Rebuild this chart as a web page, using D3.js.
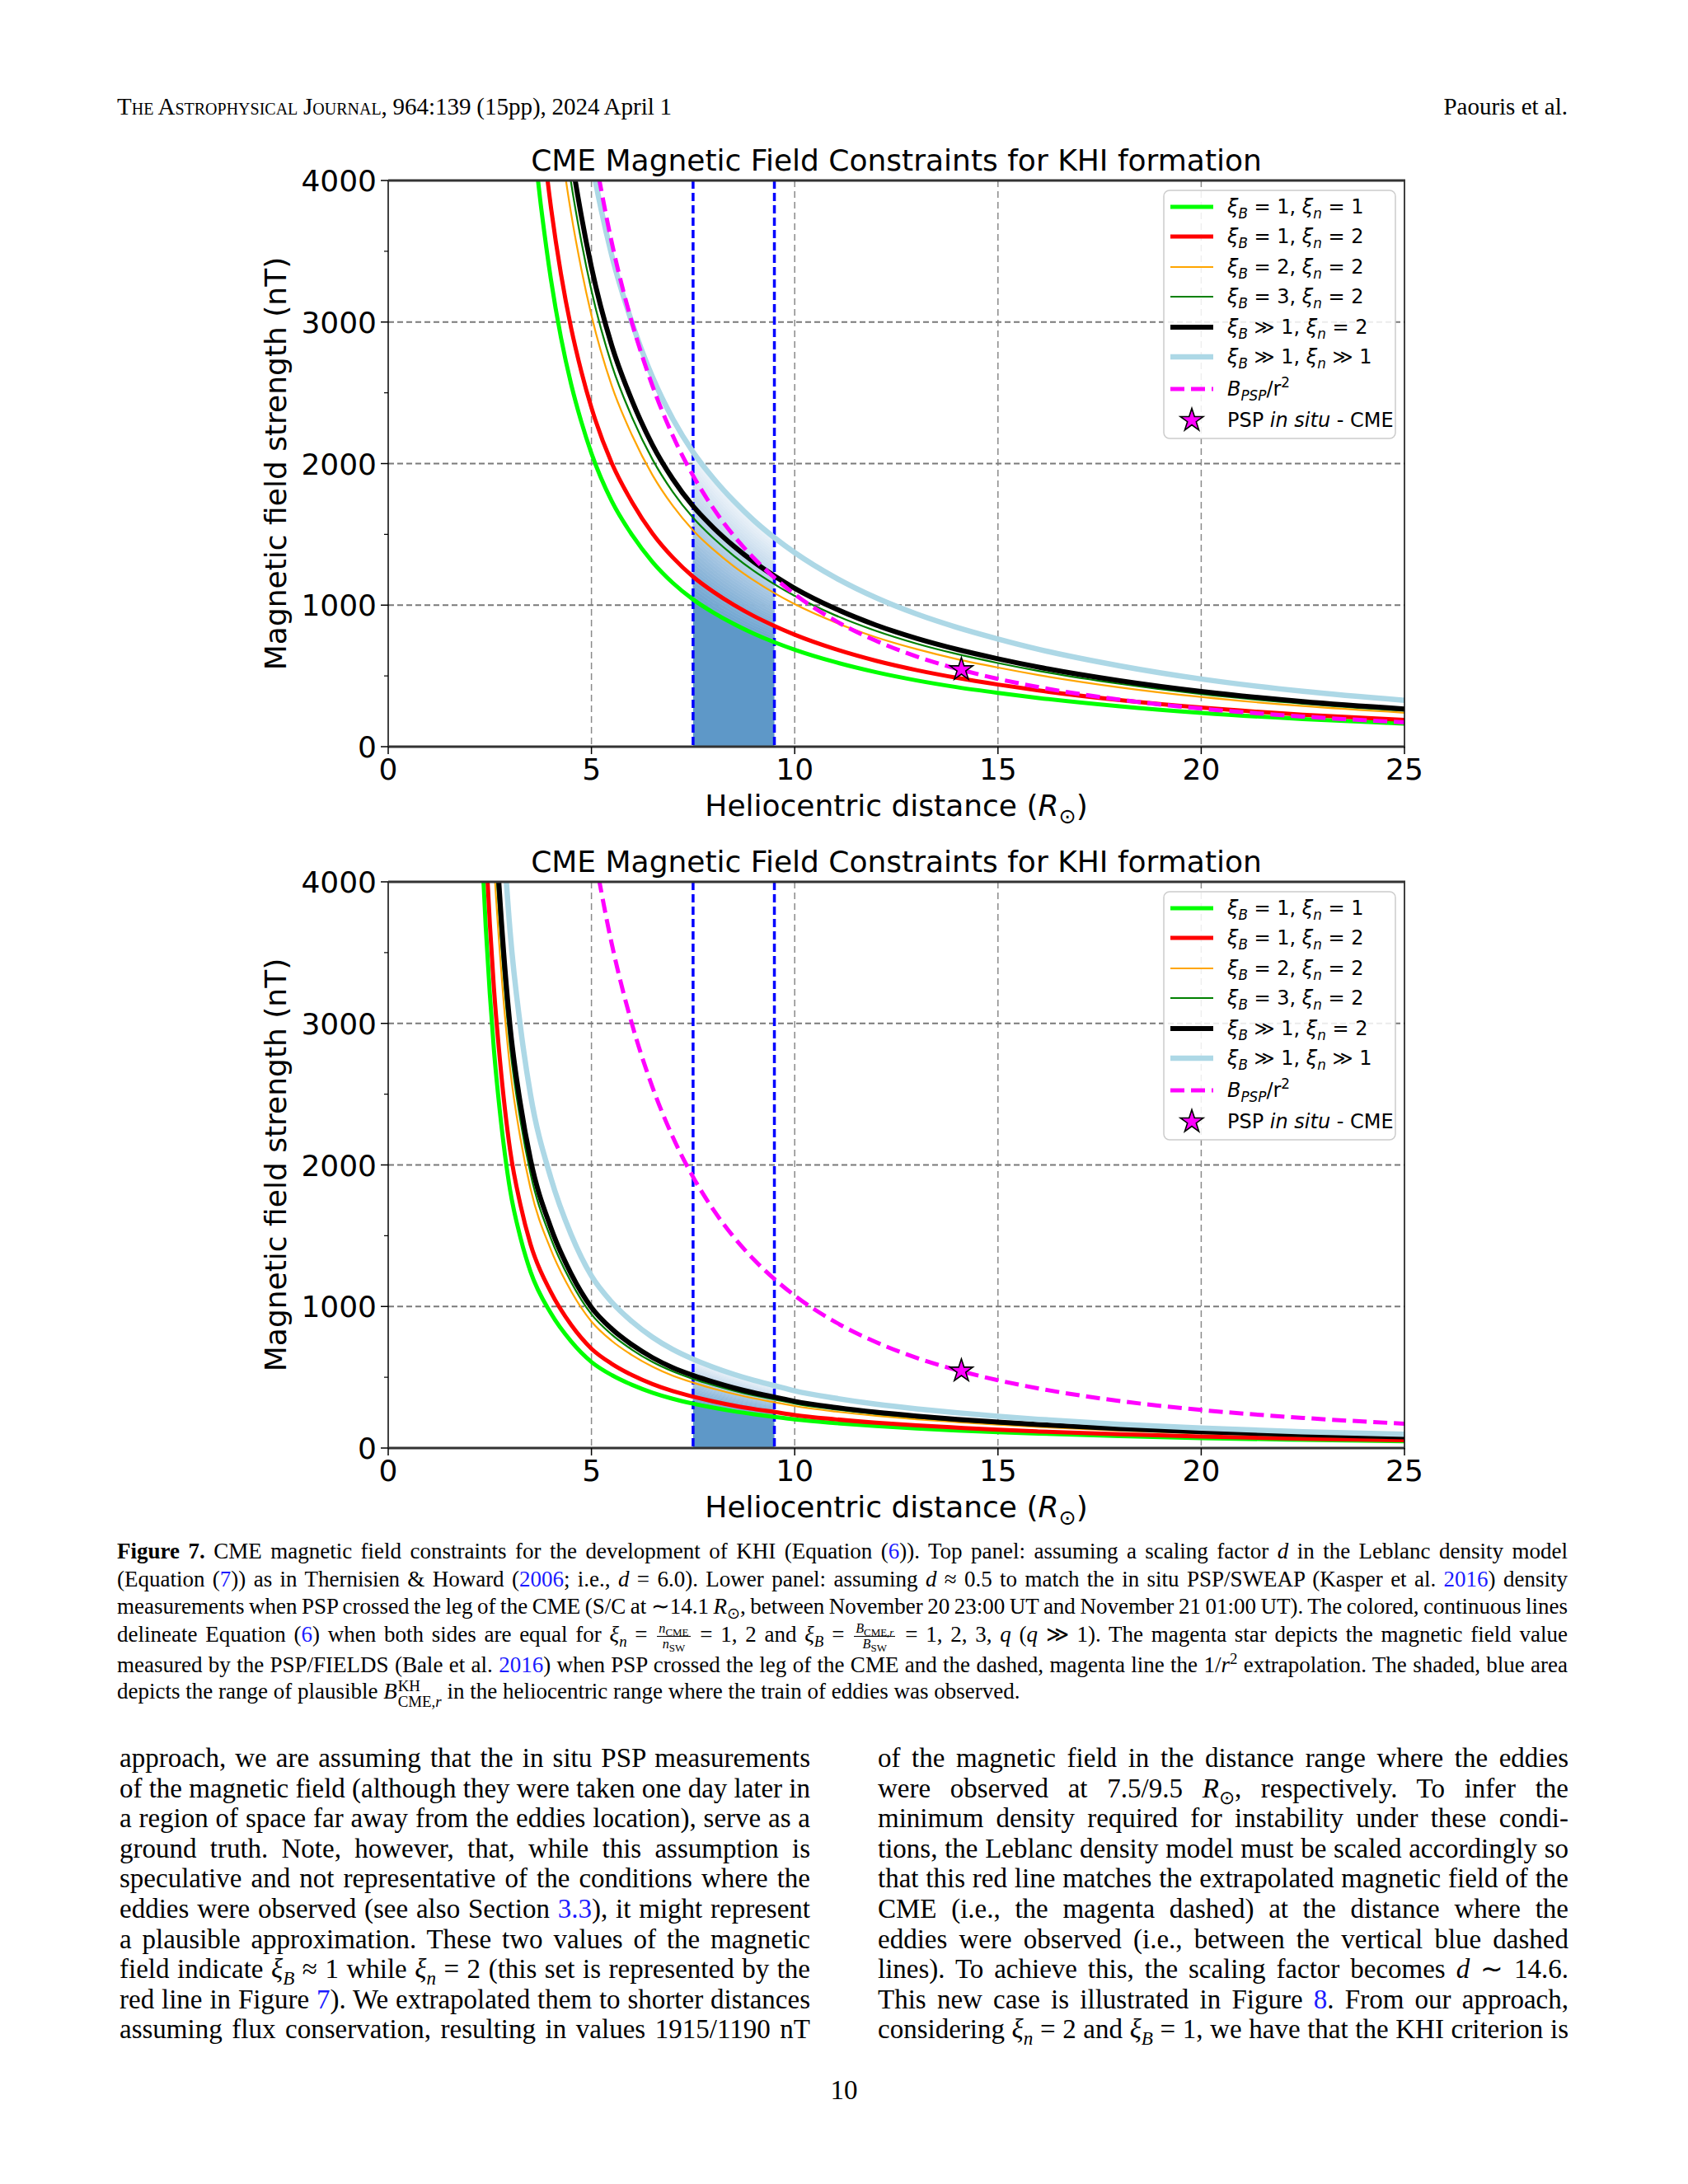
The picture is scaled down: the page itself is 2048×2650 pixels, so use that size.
<!DOCTYPE html>
<html><head><meta charset="utf-8">
<script src="https://cdn.jsdelivr.net/npm/d3@7"></script>
<style>
html,body{margin:0;padding:0;background:#fff;}
body{width:2048px;height:2650px;position:relative;overflow:hidden;}
.t{position:absolute;font-family:"Liberation Serif","Times New Roman",Times,serif;white-space:nowrap;color:#000;}
.t .in{display:inline-block;white-space:nowrap;}
.t a{color:#1a1aff;text-decoration:none;}
.t sub,.t sup{line-height:0;font-size:0.7em;}
.fr{display:inline-flex;flex-direction:column;align-items:center;vertical-align:middle;font-size:0.6em;line-height:1;margin:-30px 2px;}
.fr .nu{border-bottom:1.2px solid #000;padding:0 2px 1px 2px;}
.fr .de{padding-top:1px;}
.fr sub{font-size:0.8em;}
.ss{display:inline-flex;flex-direction:column;font-size:0.7em;line-height:1;vertical-align:9px;margin:-30px 0 -30px 1px;}
</style></head>
<body>
<svg id="fig" width="2048" height="2650" style="position:absolute;left:0;top:0"></svg>
<script>
// ---------------- DATA ----------------
const xTicks = [0, 5, 10, 15, 20, 25];
const yTicks = [0, 1000, 2000, 3000, 4000];
const yMinor = [500, 1500, 2500, 3500];
const eddyRange = [7.5, 9.5];
const starPoint = [14.1, 545];
const chartTitle = "CME Magnetic Field Constraints for KHI formation";

// top panel (d = 6.0)
const rTop = [3.5, 3.75, 4.0, 4.25, 4.5, 4.75, 5.0, 5.5, 6.0, 6.5, 7.0, 7.5, 8.0, 8.5, 9.0, 9.5, 10, 11, 12, 13, 14, 15, 16, 18, 20, 22.5, 25];
const topGreen = [4466, 3837, 3306, 2890, 2561, 2296, 2072, 1734, 1495, 1305, 1157, 1040, 947, 867, 798, 738, 685, 597, 526, 468, 420, 380, 344, 285, 239, 195, 163];
const topRed = [5159, 4433, 3819, 3339, 2958, 2652, 2394, 2003, 1727, 1507, 1337, 1201, 1094, 1002, 922, 853, 791, 689, 607, 541, 486, 439, 397, 329, 276, 226, 189];
const topOrange = [6567, 5643, 4862, 4251, 3766, 3376, 3047, 2550, 2199, 1919, 1702, 1529, 1392, 1275, 1174, 1085, 1007, 878, 773, 689, 618, 559, 506, 419, 351, 287, 240];
const topDarkGreen = [6947, 5969, 5143, 4496, 3983, 3571, 3223, 2697, 2326, 2030, 1800, 1617, 1473, 1349, 1241, 1148, 1065, 928, 818, 728, 654, 591, 535, 444, 371, 304, 254];
const topBlack = [7297, 6270, 5402, 4723, 4184, 3751, 3386, 2833, 2443, 2132, 1891, 1699, 1547, 1417, 1304, 1206, 1119, 975, 859, 765, 687, 621, 562, 466, 390, 319, 267];
const topLightBlue = [8939, 7681, 6617, 5786, 5125, 4595, 4148, 3470, 2993, 2612, 2316, 2081, 1895, 1736, 1597, 1477, 1371, 1194, 1052, 937, 842, 761, 688, 571, 478, 391, 327];

// bottom panel (d ~ 0.5)
const rBot = [2.3, 2.4, 2.5, 2.6, 2.75, 3.0, 3.25, 3.5, 4.0, 4.5, 5.0, 5.5, 6, 6.5, 7, 7.5, 8, 8.5, 9, 9.5, 10, 11, 12, 13, 14, 15, 16, 18, 20, 22.5, 25];
const botGreen = [4258, 3678, 3207, 2815, 2370, 1820, 1490, 1247, 953, 753, 608, 515, 446, 391, 348, 314, 285, 260, 239, 220, 202, 176, 155, 138, 124, 112, 102, 84, 70, 58, 48];
const botRed = [4919, 4248, 3705, 3252, 2737, 2103, 1722, 1441, 1102, 870, 702, 595, 515, 452, 402, 363, 329, 300, 276, 255, 233, 203, 179, 160, 144, 129, 117, 97, 81, 66, 56];
const botOrange = [6262, 5408, 4716, 4140, 3485, 2677, 2192, 1834, 1402, 1108, 894, 757, 656, 575, 511, 462, 419, 383, 351, 324, 297, 258, 228, 203, 183, 165, 149, 123, 104, 85, 71];
const botDarkGreen = [6624, 5721, 4988, 4379, 3686, 2831, 2318, 1940, 1483, 1172, 945, 801, 694, 608, 541, 488, 444, 405, 371, 343, 314, 273, 241, 215, 193, 174, 158, 130, 109, 89, 75];
const botBlack = [6958, 6009, 5240, 4600, 3872, 2974, 2435, 2038, 1558, 1231, 993, 841, 729, 639, 568, 513, 466, 425, 390, 360, 330, 287, 253, 226, 203, 183, 166, 137, 115, 94, 79];
const botLightBlue = [8524, 7361, 6419, 5635, 4743, 3643, 2983, 2497, 1909, 1508, 1216, 1030, 893, 783, 696, 628, 571, 521, 478, 441, 404, 352, 310, 277, 249, 224, 203, 168, 141, 115, 97];

// B_PSP / r^2 extrapolation (same in both panels)
const rMag = [5.0, 5.5, 6, 6.5, 7, 7.5, 8, 8.5, 9, 9.5, 10, 11, 12, 13, 14, 15, 16, 18, 20, 22.5, 25];
const bMag = [4309, 3561, 2992, 2550, 2198, 1915, 1683, 1491, 1330, 1194, 1077, 890, 748, 637, 550, 479, 421, 332, 269, 213, 172];

const legendLabels = [
  [["ξ","i"],["B","isub"],[" = 1, ",""],["ξ","i"],["n","isub"],[" = 1",""]],
  [["ξ","i"],["B","isub"],[" = 1, ",""],["ξ","i"],["n","isub"],[" = 2",""]],
  [["ξ","i"],["B","isub"],[" = 2, ",""],["ξ","i"],["n","isub"],[" = 2",""]],
  [["ξ","i"],["B","isub"],[" = 3, ",""],["ξ","i"],["n","isub"],[" = 2",""]],
  [["ξ","i"],["B","isub"],[" ≫ 1, ",""],["ξ","i"],["n","isub"],[" = 2",""]],
  [["ξ","i"],["B","isub"],[" ≫ 1, ",""],["ξ","i"],["n","isub"],[" ≫ 1",""]],
  [["B","i"],["PSP","isub"],["/r",""],["2","sup"]],
  [["PSP ",""],["in situ","i"],[" - CME",""]]
];

// ---------------- CHART ----------------
const svg = d3.select('#fig');
const defs = svg.append('defs');
const X0 = 471, X1 = 1704, PH = 687;
const x = d3.scaleLinear().domain([0, 25]).range([X0, X1]);
const SANS = '"DejaVu Sans", Verdana, sans-serif';

const styles = [
  {c:'#00ff00', w:5},
  {c:'#ff0000', w:5},
  {c:'#ffa500', w:2.2},
  {c:'#008000', w:2.2},
  {c:'#000000', w:6},
  {c:'#add8e6', w:6.5},
  {c:'#ff00ff', w:5, dash:'17,8'}
];

function richText(sel, segs, size) {
  let shift = 0;
  segs.forEach(([txt, st]) => {
    const t = sel.append('tspan').text(txt);
    let target = 0, fs = size;
    if (st.includes('sub')) { target = 0.24 * size; fs = 0.7 * size; }
    if (st.includes('sup')) { target = -0.4 * size; fs = 0.7 * size; }
    t.attr('dy', target - shift).attr('font-size', fs);
    shift = target;
    if (st.includes('i')) t.attr('font-style', 'italic');
  });
}

function drawPanel(top, r, series, idx) {
  const y = d3.scaleLinear().domain([0, 4000]).range([top + PH, top]);
  const g = svg.append('g');
  const clipId = 'clip' + idx;
  defs.append('clipPath').attr('id', clipId).append('rect')
    .attr('x', X0).attr('y', top).attr('width', X1 - X0).attr('height', PH);

  // grid
  g.selectAll('.gx').data(xTicks.filter(v => v > 0 && v < 25)).join('line')
    .attr('x1', d => x(d)).attr('x2', d => x(d)).attr('y1', top).attr('y2', top + PH)
    .attr('stroke', '#8a8a8a').attr('stroke-width', 1.5).attr('stroke-dasharray', '8,5');
  g.selectAll('.gy').data(yTicks.filter(v => v > 0 && v < 4000)).join('line')
    .attr('x1', X0).attr('x2', X1).attr('y1', d => y(d)).attr('y2', d => y(d))
    .attr('stroke', '#7a7a7a').attr('stroke-width', 2).attr('stroke-dasharray', '7,4');

  const pg = g.append('g').attr('clip-path', `url(#${clipId})`);
  const green = series[0], lb = series[5];
  const ids = r.map((v, i) => i).filter(i => r[i] >= eddyRange[0] - 1e-9 && r[i] <= eddyRange[1] + 1e-9);

  // solid shading 0 -> green
  pg.append('path').datum(ids)
    .attr('d', d3.area().x(i => x(r[i])).y0(y(0)).y1(i => y(green[i])).curve(d3.curveMonotoneX))
    .attr('fill', '#5e98c8');
  // gradient shading green -> light blue
  const N = 40;
  const cInt = d3.interpolateRgb('#6ea3cf', '#eef4fa');
  for (let k = 0; k < N; k++) {
    const t0 = k / N, t1 = (k + 1) / N;
    const col = cInt((k + 0.5) / N);
    pg.append('path').datum(ids)
      .attr('d', d3.area().x(i => x(r[i]))
        .y0(i => y(green[i] + (lb[i] - green[i]) * t0))
        .y1(i => y(green[i] + (lb[i] - green[i]) * t1)).curve(d3.curveMonotoneX))
      .attr('fill', col).attr('stroke', col).attr('stroke-width', 0.6);
  }

  // eddy range vertical lines
  pg.selectAll('.vl').data(eddyRange).join('line')
    .attr('x1', d => x(d)).attr('x2', d => x(d)).attr('y1', top).attr('y2', top + PH)
    .attr('stroke', '#0000ff').attr('stroke-width', 3.5).attr('stroke-dasharray', '10,5');

  // curves
  const line = d3.line().curve(d3.curveMonotoneX);
  series.forEach((s, k) => {
    pg.append('path').attr('d', line(r.map((v, i) => [x(v), y(s[i])])))
      .attr('fill', 'none').attr('stroke', styles[k].c).attr('stroke-width', styles[k].w)
      .attr('stroke-linejoin', 'round');
  });
  pg.append('path').attr('d', line(rMag.map((v, i) => [x(v), y(bMag[i])])))
    .attr('fill', 'none').attr('stroke', styles[6].c).attr('stroke-width', styles[6].w)
    .attr('stroke-dasharray', styles[6].dash);

  // star
  g.append('path').attr('d', d3.symbol(d3.symbolStar, 240)())
    .attr('transform', `translate(${x(starPoint[0])},${y(starPoint[1])})`)
    .attr('fill', '#ff00ff').attr('stroke', '#000').attr('stroke-width', 1.6);

  // spines
  g.append('line').attr('x1', X0).attr('x2', X0).attr('y1', top).attr('y2', top + PH).attr('stroke', '#000').attr('stroke-width', 1.5);
  g.append('line').attr('x1', X1).attr('x2', X1).attr('y1', top).attr('y2', top + PH).attr('stroke', '#000').attr('stroke-width', 1.5);
  g.append('line').attr('x1', X0).attr('x2', X1 + 1).attr('y1', top).attr('y2', top).attr('stroke', '#333').attr('stroke-width', 3);
  g.append('line').attr('x1', X0).attr('x2', X1 + 1).attr('y1', top + PH).attr('y2', top + PH).attr('stroke', '#333').attr('stroke-width', 3);

  // ticks
  g.selectAll('.xt').data(xTicks).join('line')
    .attr('x1', d => x(d)).attr('x2', d => x(d)).attr('y1', top + PH).attr('y2', top + PH + 9)
    .attr('stroke', '#000').attr('stroke-width', 1.5);
  g.selectAll('.yt').data(yTicks).join('line')
    .attr('x1', X0 - 9).attr('x2', X0).attr('y1', d => y(d)).attr('y2', d => y(d))
    .attr('stroke', '#000').attr('stroke-width', 1.5);
  g.selectAll('.ym').data(yMinor).join('line')
    .attr('x1', X0 - 5).attr('x2', X0).attr('y1', d => y(d)).attr('y2', d => y(d))
    .attr('stroke', '#000').attr('stroke-width', 1.2);

  // tick labels
  g.selectAll('.xl').data(xTicks).join('text')
    .attr('x', d => x(d)).attr('y', top + PH + 40).attr('text-anchor', 'middle')
    .attr('font-family', SANS).attr('font-size', 36).text(d => d);
  g.selectAll('.yl').data(yTicks).join('text')
    .attr('x', 457).attr('y', d => y(d) + 13).attr('text-anchor', 'end')
    .attr('font-family', SANS).attr('font-size', 36).text(d => d);

  // axis labels & title
  const xl = g.append('text').attr('x', (X0 + X1) / 2).attr('y', top + PH + 84)
    .attr('text-anchor', 'middle').attr('font-family', SANS).attr('font-size', 36)
    .style('white-space', 'pre');
  richText(xl, [["Heliocentric distance (",""],["R","i"],["⊙","sub"],[")",""]], 36);
  g.append('text').attr('transform', `translate(347,${top + PH / 2}) rotate(-90)`)
    .attr('text-anchor', 'middle').attr('font-family', SANS).attr('font-size', 36)
    .text('Magnetic field strength (nT)');
  g.append('text').attr('x', (X0 + X1) / 2).attr('y', top - 12).attr('text-anchor', 'middle')
    .attr('font-family', SANS).attr('font-size', 36).text(chartTitle);

  // legend
  const lg = g.append('g');
  lg.append('rect').attr('x', 1412).attr('y', top + 12).attr('width', 281).attr('height', 301)
    .attr('rx', 7).attr('fill', 'rgba(255,255,255,0.85)').attr('stroke', '#cccccc').attr('stroke-width', 1.5);
  const rows = [32, 68, 105, 141, 178, 214, 253, 291];
  legendLabels.forEach((lab, k) => {
    const yy = top + rows[k];
    if (k < 7) {
      lg.append('line').attr('x1', 1420).attr('x2', 1472).attr('y1', yy).attr('y2', yy)
        .attr('stroke', styles[k].c).attr('stroke-width', styles[k].w)
        .attr('stroke-dasharray', styles[k].dash || null);
    } else {
        lg.append('path').attr('d', d3.symbol(d3.symbolStar, 240)())
          .attr('transform', `translate(1446,${yy})`)
          .attr('fill', '#ff00ff').attr('stroke', '#000').attr('stroke-width', 1.6);
    }
    const t = lg.append('text').attr('x', 1489).attr('y', yy + 8)
      .attr('font-family', SANS).attr('font-size', 24).style('white-space', 'pre');
    richText(t, lab, 24);
  });
}

drawPanel(219, rTop, [topGreen, topRed, topOrange, topDarkGreen, topBlack, topLightBlue], 0);
drawPanel(1070, rBot, [botGreen, botRed, botOrange, botDarkGreen, botBlack, botLightBlue], 1);

// ---------------- PAGE TEXT ----------------
function placeLine(html, x0, baseline, width, size, mode) {
  const d = document.createElement('div');
  d.className = 't';
  d.style.left = x0 + 'px'; d.style.top = '0px';
  d.style.fontSize = size + 'px'; d.style.lineHeight = size + 'px';
  const s = document.createElement('span'); s.className = 'in'; s.innerHTML = html; d.appendChild(s);
  const m = document.createElement('span'); m.style.cssText = 'display:inline-block;width:0;height:0;'; d.appendChild(m);
  document.body.appendChild(d);
  let w = s.getBoundingClientRect().width;
  if (mode === 'justify' || w > width) {
    const n = (s.textContent.match(/ /g) || []).length;
    let ws = n ? (width - w) / n : 0;
    if (mode !== 'justify') ws = Math.min(ws, 0);
    const minWs = -0.1 * size;
    if (ws < minWs) ws = minWs;
    s.style.wordSpacing = ws + 'px';
    w = s.getBoundingClientRect().width;
    if (w > width + 0.5) { s.style.transformOrigin = '0 0'; s.style.transform = `scaleX(${width / w})`; w = width; }
  }
  if (mode === 'right') d.style.left = (x0 + width - w) + 'px';
  if (mode === 'center') d.style.left = (x0 + (width - w) / 2) + 'px';
  const bt = m.getBoundingClientRect().top;
  d.style.top = (baseline - bt) + 'px';
}
const frac = (n, dd) => `<span class="fr"><span class="nu">${n}</span><span class="de">${dd}</span></span>`;
const ss = (a, b) => `<span class="ss"><span>${a}</span><span>${b}</span></span>`;

// header
placeLine('<span style="font-variant:small-caps">The Astrophysical Journal</span>, 964:139 (15pp), 2024 April 1', 142, 139, 673, 29, 'justify');
placeLine('Paouris et al.', 1500, 139, 402, 29, 'right');

// caption
const capLines = [
  '<b>Figure 7.</b> CME magnetic field constraints for the development of KHI (Equation (<a>6</a>)). Top panel: assuming a scaling factor <i>d</i> in the Leblanc density model',
  '(Equation (<a>7</a>)) as in Thernisien &amp; Howard (<a>2006</a>; i.e., <i>d</i> = 6.0). Lower panel: assuming <i>d</i> ≈ 0.5 to match the in situ PSP/SWEAP (Kasper et al. <a>2016</a>) density',
  'measurements when PSP crossed the leg of the CME (S/C at ∼14.1 <i>R</i><sub>⊙</sub>, between November 20 23:00 UT and November 21 01:00 UT). The colored, continuous lines',
  'delineate Equation (<a>6</a>) when both sides are equal for <i>ξ<sub>n</sub></i> = ' + frac('<i>n</i><sub>CME</sub>', '<i>n</i><sub>SW</sub>') + ' = 1, 2 and <i>ξ<sub>B</sub></i> = ' + frac('<i>B</i><sub>CME,<i>r</i></sub>', '<i>B</i><sub>SW</sub>') + ' = 1, 2, 3, <i>q</i> (<i>q</i> ≫ 1). The magenta star depicts the magnetic field value',
  'measured by the PSP/FIELDS (Bale et al. <a>2016</a>) when PSP crossed the leg of the CME and the dashed, magenta line the 1/<i>r</i><sup>2</sup> extrapolation. The shaded, blue area',
  'depicts the range of plausible <i>B</i>' + ss('KH', 'CME,<i>r</i>') + ' in the heliocentric range where the train of eddies was observed.'
];
const capBase = [1891, 1925, 1958, 1992, 2029, 2061];
capLines.forEach((h, i) => placeLine(h, 142, capBase[i], 1760, 27, i === capLines.length - 1 ? 'left' : 'justify'));

// body text
const leftCol = [
  'approach, we are assuming that the in situ PSP measurements',
  'of the magnetic field (although they were taken one day later in',
  'a region of space far away from the eddies location), serve as a',
  'ground truth. Note, however, that, while this assumption is',
  'speculative and not representative of the conditions where the',
  'eddies were observed (see also Section <a>3.3</a>), it might represent',
  'a plausible approximation. These two values of the magnetic',
  'field indicate <i>ξ<sub>B</sub></i> ≈ 1 while <i>ξ<sub>n</sub></i> = 2 (this set is represented by the',
  'red line in Figure <a>7</a>). We extrapolated them to shorter distances',
  'assuming flux conservation, resulting in values 1915/1190 nT'
];
const rightCol = [
  'of the magnetic field in the distance range where the eddies',
  'were observed at 7.5/9.5 <i>R</i><sub>⊙</sub>, respectively. To infer the',
  'minimum density required for instability under these condi-',
  'tions, the Leblanc density model must be scaled accordingly so',
  'that this red line matches the extrapolated magnetic field of the',
  'CME (i.e., the magenta dashed) at the distance where the',
  'eddies were observed (i.e., between the vertical blue dashed',
  'lines). To achieve this, the scaling factor becomes <i>d</i> ∼ 14.6.',
  'This new case is illustrated in Figure <a>8</a>. From our approach,',
  'considering <i>ξ<sub>n</sub></i> = 2 and <i>ξ<sub>B</sub></i> = 1, we have that the KHI criterion is'
];
leftCol.forEach((h, i) => placeLine(h, 145, 2144 + i * 36.6, 838, 33, 'justify'));
rightCol.forEach((h, i) => placeLine(h, 1065, 2144 + i * 36.6, 838, 33, 'justify'));

// page number
placeLine('10', 924, 2547, 200, 33, 'center');
</script>
</body></html>
